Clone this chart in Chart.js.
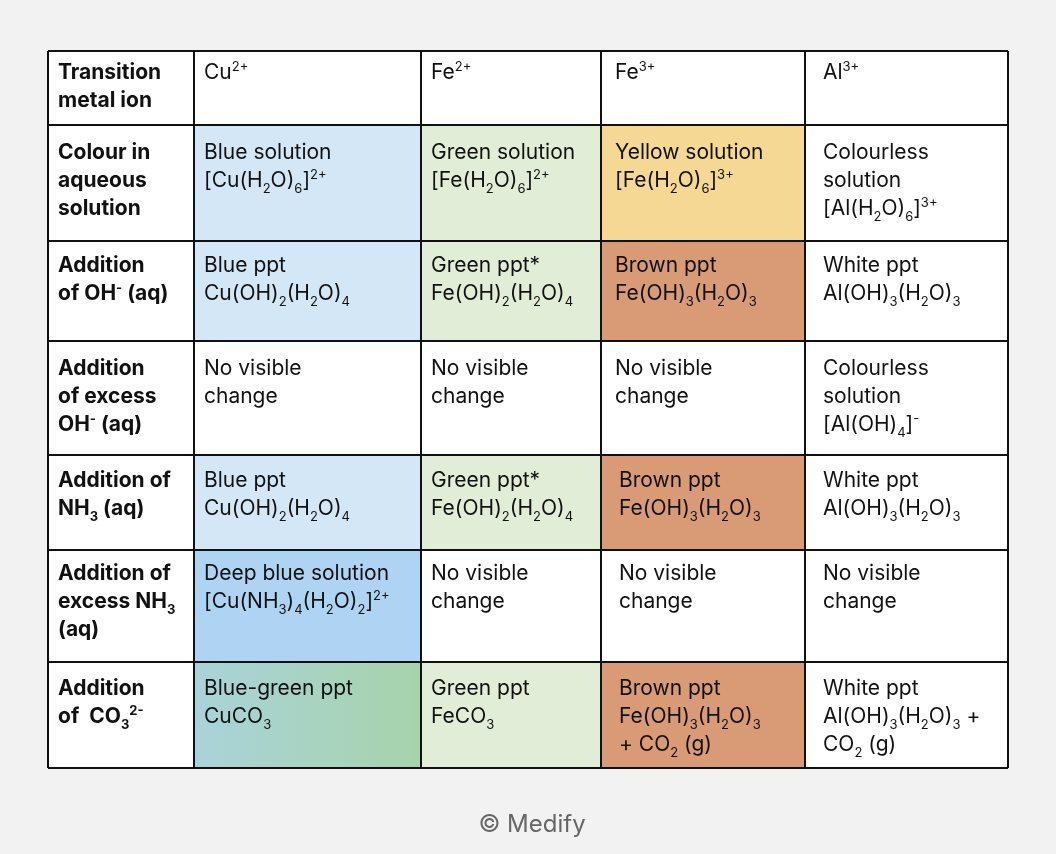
<!DOCTYPE html>
<html>
<head>
<meta charset="utf-8">
<script src="https://cdn.jsdelivr.net/npm/chart.js@4.4.1/dist/chart.umd.min.js"></script>
<style>
  html, body { margin: 0; padding: 0; background: #f2f2f2; }
  #wrap { width: 1056px; height: 854px; }
</style>
</head>
<body>
<div id="wrap"><canvas id="chartId" width="1056" height="854"></canvas></div>
<script>
// column and row edges of the table (in chart units)
const colEdges = [48, 194, 421, 601, 805, 1008];
const rowEdges = [51, 125, 241, 341, 455, 550, 662, 768];
const rowBase = [28, 34, 31, 34, 32, 30, 33]; // first baseline offset per row

const BLUE = '#d4e7f7', GREEN = '#e2edd8', YELLOW = '#f5d893', BROWN = '#d99a76',
      DEEP = '#aed3f3', WHITE = '#ffffff', GRAD = 'grad';

// text markup: _{..} subscript, ^{..} superscript, \n new line
const table = [
  [['**Transition\nmetal ion', WHITE], ['Cu^{2+}', WHITE], ['Fe^{2+}', WHITE], ['Fe^{3+}', WHITE, 14], ['Al^{3+}', WHITE, 18]],
  [['**Colour in\naqueous\nsolution', WHITE], ['Blue solution\n[Cu(H_{2}O)_{6}]^{2+}', BLUE], ['Green solution\n[Fe(H_{2}O)_{6}]^{2+}', GREEN], ['Yellow solution\n[Fe(H_{2}O)_{6}]^{3+}', YELLOW, 14], ['Colourless\nsolution\n[Al(H_{2}O)_{6}]^{3+}', WHITE, 18]],
  [['**Addition\nof OH^{-} (aq)', WHITE], ['Blue ppt\nCu(OH)_{2}(H_{2}O)_{4}', BLUE], ['Green ppt*\nFe(OH)_{2}(H_{2}O)_{4}', GREEN], ['Brown ppt\nFe(OH)_{3}(H_{2}O)_{3}', BROWN, 14], ['White ppt\nAl(OH)_{3}(H_{2}O)_{3}', WHITE, 18]],
  [['**Addition\nof excess\nOH^{-} (aq)', WHITE], ['No visible\nchange', WHITE], ['No visible\nchange', WHITE], ['No visible\nchange', WHITE, 14], ['Colourless\nsolution\n[Al(OH)_{4}]^{-}', WHITE, 18]],
  [['**Addition of\nNH_{3} (aq)', WHITE], ['Blue ppt\nCu(OH)_{2}(H_{2}O)_{4}', BLUE], ['Green ppt*\nFe(OH)_{2}(H_{2}O)_{4}', GREEN], ['Brown ppt\nFe(OH)_{3}(H_{2}O)_{3}', BROWN, 18], ['White ppt\nAl(OH)_{3}(H_{2}O)_{3}', WHITE, 18]],
  [['**Addition of\nexcess NH_{3}\n(aq)', WHITE], ['Deep blue solution\n[Cu(NH_{3})_{4}(H_{2}O)_{2}]^{2+}', DEEP], ['No visible\nchange', WHITE], ['No visible\nchange', WHITE, 18], ['No visible\nchange', WHITE, 18]],
  [['**Addition\nof  CO_{3}^{2-}', WHITE], ['Blue-green ppt\nCuCO_{3}', GRAD], ['Green ppt\nFeCO_{3}', GREEN], ['Brown ppt\nFe(OH)_{3}(H_{2}O)_{3}\n+ CO_{2} (g)', BROWN, 18], ['White ppt\nAl(OH)_{3}(H_{2}O)_{3} +\nCO_{2} (g)', WHITE, 18]]
];

const cells = [];
table.forEach((row, r) => row.forEach((c, k) => {
  cells.push({x0: colEdges[k], x1: colEdges[k + 1], y0: rowEdges[r], y1: rowEdges[r + 1],
              text: c[0], fill: c[1], pad: c[2] || 10, base: rowBase[r]});
}));

function parse(line) {
  const parts = [];
  let i = 0, buf = '';
  while (i < line.length) {
    const ch = line[i];
    if ((ch === '_' || ch === '^') && line[i + 1] === '{') {
      if (buf) { parts.push({t: buf, m: 0}); buf = ''; }
      const end = line.indexOf('}', i);
      parts.push({t: line.slice(i + 2, end), m: ch === '_' ? 1 : -1});
      i = end + 1;
    } else { buf += ch; i++; }
  }
  if (buf) parts.push({t: buf, m: 0});
  return parts;
}

const tablePlugin = {
  id: 'table',
  beforeDatasetsDraw(chart) {
    const ctx = chart.ctx, sx = chart.scales.x, sy = chart.scales.y;
    ctx.save();
    cells.forEach(c => {
      const x0 = sx.getPixelForValue(c.x0), x1 = sx.getPixelForValue(c.x1);
      const y0 = sy.getPixelForValue(c.y0), y1 = sy.getPixelForValue(c.y1);
      if (c.fill === GRAD) {
        const g = ctx.createLinearGradient(x0, 0, x1, 0);
        g.addColorStop(0, '#a9d3da');
        g.addColorStop(1, '#a7d3ab');
        ctx.fillStyle = g;
      } else ctx.fillStyle = c.fill;
      ctx.fillRect(x0, y0, x1 - x0, y1 - y0);
      let txt = c.text, bold = false;
      if (txt.startsWith('**')) { bold = true; txt = txt.slice(2); }
      const size = 21;
      ctx.fillStyle = '#111';
      ctx.textBaseline = 'alphabetic';
      txt.split('\n').forEach((line, li) => {
        let x = x0 + c.pad;
        const base = y0 + c.base + li * 28;
        parse(line).forEach(p => {
          const fs = p.m === 0 ? size : 13;
          ctx.font = (bold ? 'bold ' : '') + fs + 'px Inter, "Noto Sans", sans-serif';
          const yy = p.m === 0 ? base : (p.m === 1 ? base + 6 : base - 8);
          ctx.fillText(p.t, x, yy);
          x += ctx.measureText(p.t).width + (p.m === -1 ? 0 : 0);
        });
      });
    });
    // grid lines
    ctx.strokeStyle = '#111';
    ctx.lineWidth = 2;
    ctx.beginPath();
    colEdges.forEach(v => {
      const x = sx.getPixelForValue(v);
      ctx.moveTo(x, sy.getPixelForValue(rowEdges[0]));
      ctx.lineTo(x, sy.getPixelForValue(rowEdges[rowEdges.length - 1]));
    });
    rowEdges.forEach(v => {
      const y = sy.getPixelForValue(v);
      ctx.moveTo(sx.getPixelForValue(colEdges[0]), y);
      ctx.lineTo(sx.getPixelForValue(colEdges[colEdges.length - 1]), y);
    });
    ctx.stroke();
    // credit
    ctx.fillStyle = '#666';
    ctx.font = '24px Inter, "Noto Sans", sans-serif';
    ctx.textAlign = 'center';
    ctx.fillText('© Medify', sx.getPixelForValue(532), sy.getPixelForValue(832));
    ctx.restore();
  }
};

new Chart(document.getElementById('chartId').getContext('2d'), {
  type: 'scatter',
  data: { datasets: [{ data: [], pointRadius: 0 }] },
  options: {
    responsive: false,
    animation: false,
    layout: { padding: 0 },
    plugins: { legend: { display: false }, tooltip: { enabled: false } },
    scales: {
      x: { type: 'linear', min: 0, max: 1056, display: false },
      y: { type: 'linear', min: 0, max: 854, reverse: true, display: false }
    }
  },
  plugins: [tablePlugin]
});
</script>
</body>
</html>
